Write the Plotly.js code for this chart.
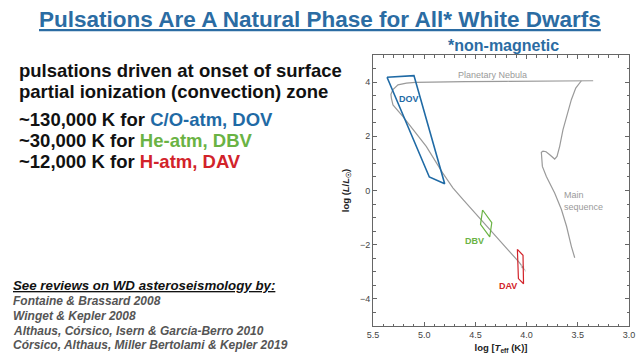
<!DOCTYPE html>
<html><head><meta charset="utf-8">
<script src="https://cdn.plot.ly/plotly-3.0.1.min.js"></script>
<style>html,body{margin:0;padding:0;background:#fff;}#chart{width:640px;height:360px;}</style>
</head><body><div id="chart"></div>
<script>
// ---- data (log Teff, log L/Lsun) ----
const pnTeff = [3.35, 3.465, 3.8, 4.2, 4.6, 4.9, 5.09, 5.174, 5.256, 5.305, 5.325, 5.32, 5.305, 5.207, 5.10, 4.98, 4.82, 4.72, 4.62, 4.39, 4.20, 4.07, 4.01];
const pnLum  = [4.05, 4.05, 4.04, 4.03, 4.02, 4.01, 3.99, 3.96, 3.90, 3.72, 3.55, 3.40, 3.16, 2.73, 2.20, 1.63, 0.65, 0.10, -0.34, -1.31, -2.10, -2.66, -2.98];
const msTeff = [3.53, 3.563, 3.61, 3.66, 3.726, 3.807, 3.846, 3.852, 3.856, 3.84, 3.81, 3.774, 3.726, 3.703, 3.677, 3.645, 3.611, 3.563, 3.52, 3.481, 3.465];
const msLum  = [-2.48, -2.06, -1.32, -0.70, -0.09, 0.52, 0.89, 1.14, 1.41, 1.45, 1.43, 1.32, 1.16, 1.26, 1.63, 2.24, 2.73, 3.35, 3.78, 3.99, 4.05];
const dovTeff = [5.363, 5.10, 4.80, 4.95, 5.363];
const dovLum  = [4.18, 4.24, 0.25, 0.50, 4.18];
const dbvTeff = [4.43, 4.34, 4.36, 4.45, 4.43];
const dbvLum  = [-0.72, -1.19, -1.71, -1.25, -0.72];
const davTeff = [4.09, 4.035, 4.03, 4.08, 4.09];
const davLum  = [-2.17, -2.39, -3.44, -3.25, -2.17];
const xTickVals = [5.5, 5.0, 4.5, 4.0, 3.5, 3.0];
const xTickText = ['5.5', '5.0', '4.5', '4.0', '3.5', '3.0'];
const yTickVals = [-4, -2, 0, 2, 4];
const yTickText = ['\u22124', '\u22122', '0', '2', '4'];

const BLUE = '#1f6aa5', GREEN = '#6ab344', RED = '#d2232a', GRAY = '#9a9a9a';
const FONT = 'Liberation Sans, Arial, Helvetica, sans-serif';

// marker sizes: only last point of cooling track shows an arrowhead
const arrowSizes = pnTeff.map((v, i) => i === pnTeff.length - 1 ? 7 : 0);

const traces = [
  {x: msTeff, y: msLum, mode: 'lines', line: {color: GRAY, width: 1.2}, hoverinfo: 'skip'},
  {x: pnTeff, y: pnLum, mode: 'lines+markers', line: {color: GRAY, width: 1.2},
   marker: {symbol: 'arrow', size: arrowSizes, angleref: 'previous', color: GRAY}, hoverinfo: 'skip'},
  {x: dovTeff, y: dovLum, mode: 'lines', line: {color: BLUE, width: 1.6}, hoverinfo: 'skip'},
  {x: dbvTeff, y: dbvLum, mode: 'lines', line: {color: GREEN, width: 1.2}, hoverinfo: 'skip'},
  {x: davTeff, y: davLum, mode: 'lines', line: {color: RED, width: 1.2}, hoverinfo: 'skip'}
];

const L = 373, R = 629, T = 55, B = 326;
function px(x) { return (x - L) / (R - L); }
function py(y) { return (B - y) / (B - T); }
function slide(text, x, y, opts) {
  return Object.assign({xref: 'paper', yref: 'paper', x: px(x), y: py(y), text: text,
    showarrow: false, xanchor: 'left', yanchor: 'middle',
    font: {family: FONT, size: 18.5, color: '#111'}}, opts || {});
}
function inPlot(text, x, y, color, bold, opts) {
  return Object.assign({xref: 'x', yref: 'y', x: x, y: y, text: bold ? '<b>' + text + '</b>' : text,
    showarrow: false, xanchor: 'center', yanchor: 'middle',
    font: {family: FONT, size: 9, color: color}}, opts || {});
}

const annotations = [
  slide('<b><u>Pulsations Are A Natural Phase for All* White Dwarfs</u></b>', 320, 20,
        {xanchor: 'center', font: {family: FONT, size: 22.5, color: '#2b6ca3'}}),
  slide('<b>*non-magnetic</b>', 503, 45, {xanchor: 'center', font: {family: FONT, size: 16, color: '#2b6ca3'}}),
  slide('<b>pulsations driven at onset of surface</b>', 17, 70),
  slide('<b>partial ionization (convection) zone</b>', 17, 91),
  slide('<b>~130,000 K for <span style="color:' + BLUE + '">C/O-atm, DOV</span></b>', 17, 120),
  slide('<b>~30,000 K for <span style="color:' + GREEN + '">He-atm, DBV</span></b>', 17, 140.5),
  slide('<b>~12,000 K for <span style="color:' + RED + '">H-atm, DAV</span></b>', 17, 161),
  slide('<b><i><u>See reviews on WD asteroseismology by:</u></i></b>', 11, 285, {font: {family: FONT, size: 13.3, color: '#111'}}),
  slide('<b><i>Fontaine &amp; Brassard 2008</i></b>', 11, 300.5, {font: {family: FONT, size: 12, color: '#555'}}),
  slide('<b><i>Winget &amp; Kepler 2008</i></b>', 11, 315.5, {font: {family: FONT, size: 12, color: '#555'}}),
  slide('<b><i>Althaus, Córsico, Isern &amp; García-Berro 2010</i></b>', 11, 330.5, {font: {family: FONT, size: 12, color: '#555'}}),
  slide('<b><i>Córsico, Althaus, Miller Bertolami &amp; Kepler 2019</i></b>', 11, 345, {font: {family: FONT, size: 12, color: '#555'}}),
  inPlot('Planetary Nebula', 4.33, 4.25, GRAY, false),
  inPlot('Main<br>sequence', 3.65, -0.40, GRAY, false, {xanchor: 'left', align: 'left'}),
  inPlot('DOV', 5.15, 3.37, BLUE, true),
  inPlot('DBV', 4.51, -1.87, GREEN, true),
  inPlot('DAV', 4.185, -3.54, RED, true)
];

const axisCommon = {
  showgrid: false, zeroline: false, showline: true, linecolor: '#666', linewidth: 1,
  mirror: 'allticks', ticks: 'inside', ticklen: 4, tickcolor: '#666', tickwidth: 1,
  tickfont: {family: FONT, size: 9, color: '#444'}, fixedrange: true
};

const layout = {
  width: 640, height: 360, showlegend: false,
  paper_bgcolor: '#fff', plot_bgcolor: '#fff',
  margin: {l: L, r: 640 - R, t: T, b: 360 - B, pad: 0},
  xaxis: Object.assign({}, axisCommon, {
    range: [5.5, 3.0], autorange: false, tickmode: 'array', tickvals: xTickVals, ticktext: xTickText,
    minor: {dtick: 0.1, tick0: 3.0, ticks: 'inside', ticklen: 2.5, tickcolor: '#666', showgrid: false},
    title: {text: 'log [<i>T</i><sub>eff</sub> (K)]', standoff: 5,
            font: {family: FONT, size: 9.5, color: '#222', weight: 'bold'}}
  }),
  yaxis: Object.assign({}, axisCommon, {
    range: [-5, 5], autorange: false, tickmode: 'array', tickvals: yTickVals, ticktext: yTickText,
    minor: {dtick: 0.5, tick0: 0, ticks: 'inside', ticklen: 2.5, tickcolor: '#666', showgrid: false},
    title: {text: 'log (<i>L</i>/<i>L</i><sub>\u2609</sub>)', standoff: 8,
            font: {family: FONT, size: 9.5, color: '#222', weight: 'bold'}}
  }),
  annotations: annotations
};

Plotly.newPlot('chart', traces, layout, {staticPlot: true, displayModeBar: false});
</script>
</body></html>
